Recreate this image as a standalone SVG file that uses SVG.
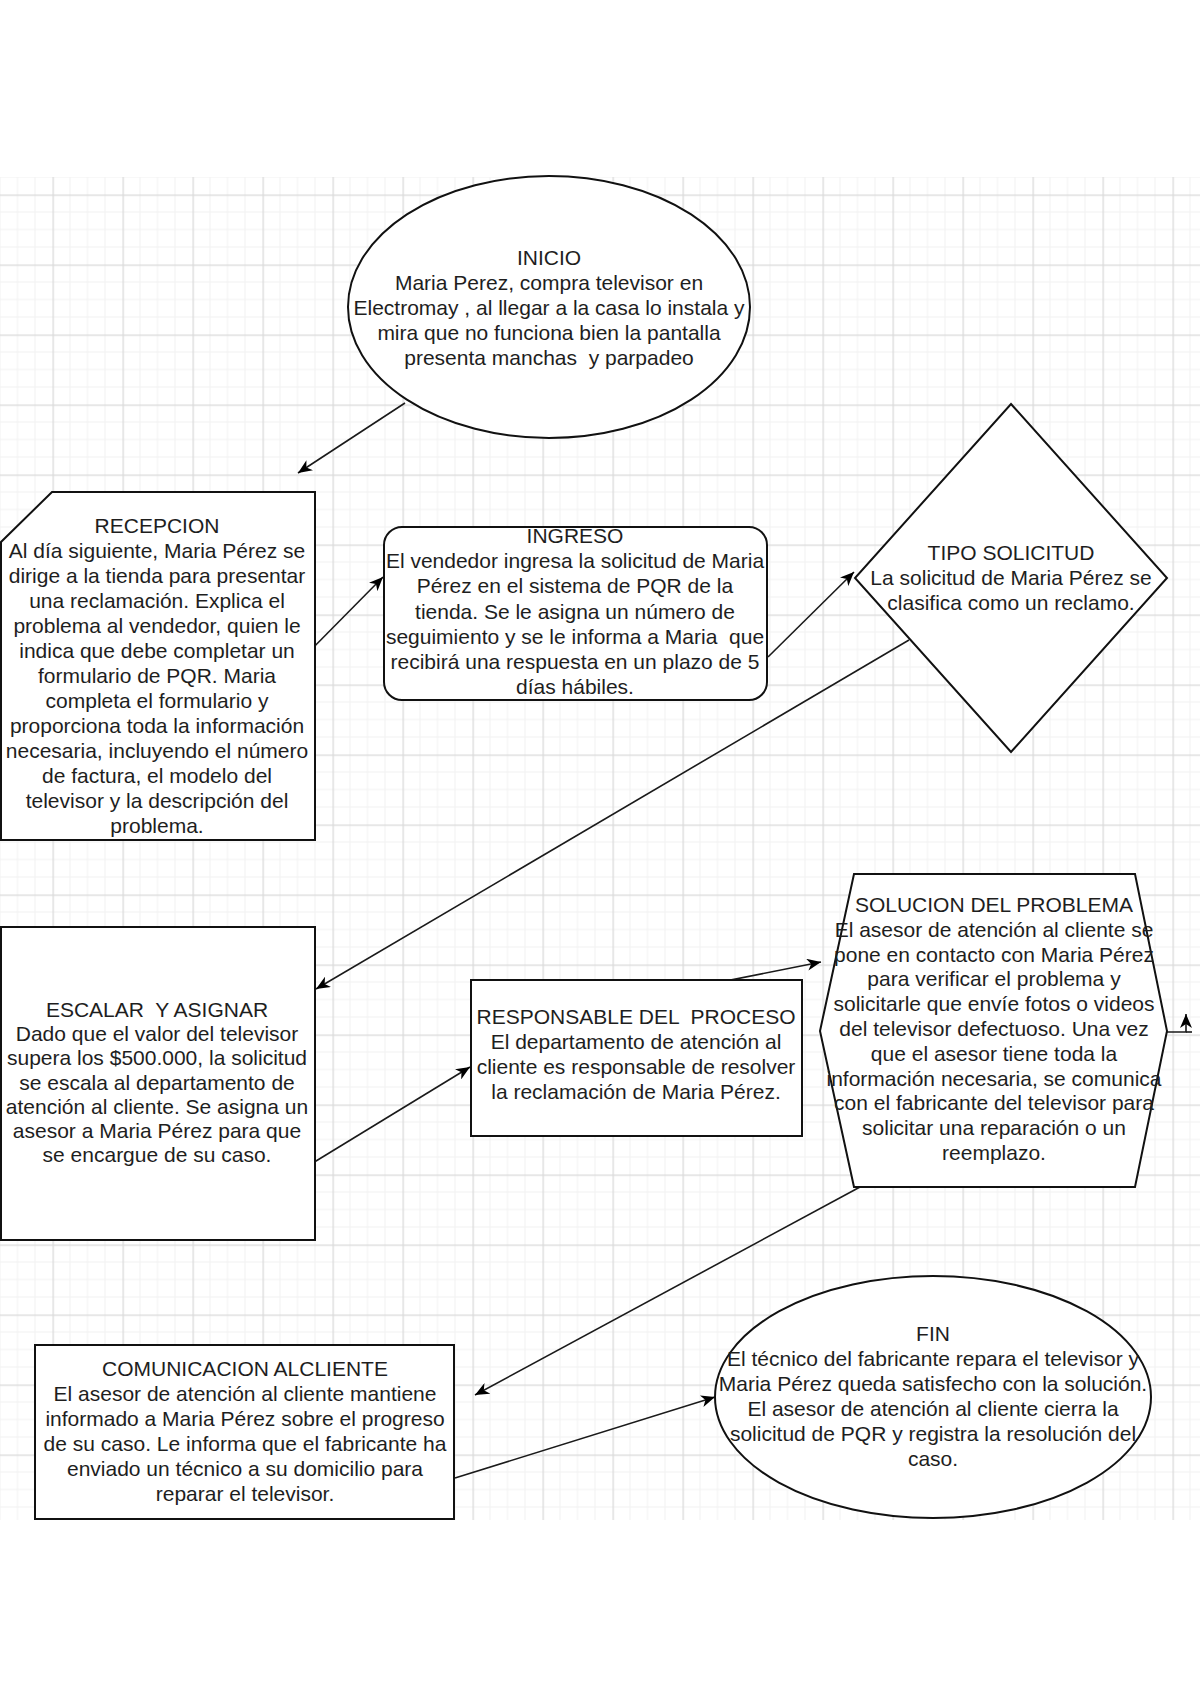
<svg xmlns="http://www.w3.org/2000/svg" width="1200" height="1698" viewBox="0 0 1200 1698">
<style>
.t{font-family:"Liberation Sans",Arial,sans-serif;font-size:21px;fill:#1e1e1e;text-anchor:middle;white-space:pre}
.s{fill:#fff;stroke:#111;stroke-width:2}
.c{fill:none;stroke:#1a1a1a;stroke-width:1.6;marker-end:url(#arr)}
</style>
<defs>
<pattern id="grid" x="52.5" y="194.5" width="70" height="70" patternUnits="userSpaceOnUse">
<path d="M17.5 0V70M35 0V70M52.5 0V70M0 17.5H70M0 35H70M0 52.5H70" stroke="#f1f1f1" stroke-width="1"/>
<rect x="0" y="0" width="1.3" height="70" fill="#dadada"/>
<rect x="0" y="0" width="70" height="1.3" fill="#dadada"/>
</pattern>
<marker id="arr" markerUnits="userSpaceOnUse" markerWidth="16" markerHeight="12" refX="14" refY="6" orient="auto">
<path d="M0,0 L14,6 L0,12 L4,6 Z" fill="#000"/>
</marker>
</defs>
<rect width="1200" height="1698" fill="#fff"/>
<g id="background-grid">
<rect x="0" y="177" width="1200" height="1343" fill="url(#grid)"/>
</g>
<g id="connectors">
<line class="c" x1="405" y1="403" x2="298" y2="473"/>
<line class="c" x1="298" y1="663" x2="383" y2="577"/>
<line class="c" x1="768" y1="657" x2="854" y2="572"/>
<line class="c" x1="909" y1="640" x2="316" y2="989"/>
<line class="c" x1="298" y1="1172" x2="470" y2="1067"/>
<line class="c" x1="645" y1="997" x2="821" y2="962"/>
<line class="c" x1="860" y1="1187" x2="475" y2="1395"/>
<line class="c" x1="455" y1="1478" x2="715" y2="1397"/>
<path class="c" d="M1167,1032 H1186 V1014"/>
<line x1="1186" y1="1032" x2="1192" y2="1032" stroke="#1a1a1a" stroke-width="1.6"/>
</g>
<g id="inicio">
<ellipse class="s" cx="549" cy="307" rx="201" ry="131"/>
<text class="t"><tspan x="549" y="265">INICIO</tspan><tspan x="549" y="290">Maria Perez, compra televisor en</tspan><tspan x="549" y="315">Electromay , al llegar a la casa lo instala y</tspan><tspan x="549" y="340">mira que no funciona bien la pantalla</tspan><tspan x="549" y="365">presenta manchas  y parpadeo</tspan></text>
</g>
<g id="recepcion">
<polygon class="s" points="52,492 315,492 315,840 1,840 1,542"/>
<text class="t"><tspan x="157" y="533">RECEPCION</tspan><tspan x="157" y="558">Al día siguiente, Maria Pérez se</tspan><tspan x="157" y="583">dirige a la tienda para presentar</tspan><tspan x="157" y="608">una reclamación. Explica el</tspan><tspan x="157" y="633">problema al vendedor, quien le</tspan><tspan x="157" y="658">indica que debe completar un</tspan><tspan x="157" y="683">formulario de PQR. Maria</tspan><tspan x="157" y="708">completa el formulario y</tspan><tspan x="157" y="733">proporciona toda la información</tspan><tspan x="157" y="758">necesaria, incluyendo el número</tspan><tspan x="157" y="783">de factura, el modelo del</tspan><tspan x="157" y="808">televisor y la descripción del</tspan><tspan x="157" y="833">problema.</tspan></text>
</g>
<g id="ingreso">
<rect class="s" x="384" y="527" width="383" height="173" rx="18" ry="18"/>
<text class="t"><tspan x="575" y="543">INGRESO</tspan><tspan x="575" y="568">El vendedor ingresa la solicitud de Maria</tspan><tspan x="575" y="593">Pérez en el sistema de PQR de la</tspan><tspan x="575" y="619">tienda. Se le asigna un número de</tspan><tspan x="575" y="644">seguimiento y se le informa a Maria  que</tspan><tspan x="575" y="669">recibirá una respuesta en un plazo de 5</tspan><tspan x="575" y="694">días hábiles.</tspan></text>
</g>
<g id="tipo-solicitud">
<polygon class="s" points="1011,404 1167,578 1011,752 855,578"/>
<text class="t"><tspan x="1011" y="560">TIPO SOLICITUD</tspan><tspan x="1011" y="585">La solicitud de Maria Pérez se</tspan><tspan x="1011" y="610">clasifica como un reclamo.</tspan></text>
</g>
<g id="escalar">
<rect class="s" x="1" y="927" width="314" height="313"/>
<text class="t"><tspan x="157" y="1017">ESCALAR  Y ASIGNAR</tspan><tspan x="157" y="1041">Dado que el valor del televisor</tspan><tspan x="157" y="1065">supera los $500.000, la solicitud</tspan><tspan x="157" y="1090">se escala al departamento de</tspan><tspan x="157" y="1114">atención al cliente. Se asigna un</tspan><tspan x="157" y="1138">asesor a Maria Pérez para que</tspan><tspan x="157" y="1162">se encargue de su caso.</tspan></text>
</g>
<g id="responsable">
<rect class="s" x="471" y="980" width="331" height="156"/>
<text class="t"><tspan x="636" y="1024">RESPONSABLE DEL  PROCESO</tspan><tspan x="636" y="1049">El departamento de atención al</tspan><tspan x="636" y="1074">cliente es responsable de resolver</tspan><tspan x="636" y="1099">la reclamación de Maria Pérez.</tspan></text>
</g>
<g id="solucion">
<polygon class="s" points="854,874 1135,874 1167,1031 1135,1187 854,1187 820,1031"/>
<text class="t"><tspan x="994" y="912">SOLUCION DEL PROBLEMA</tspan><tspan x="994" y="937">El asesor de atención al cliente se</tspan><tspan x="994" y="962">pone en contacto con Maria Pérez</tspan><tspan x="994" y="986">para verificar el problema y</tspan><tspan x="994" y="1011">solicitarle que envíe fotos o videos</tspan><tspan x="994" y="1036">del televisor defectuoso. Una vez</tspan><tspan x="994" y="1061">que el asesor tiene toda la</tspan><tspan x="994" y="1086">información necesaria, se comunica</tspan><tspan x="994" y="1110">con el fabricante del televisor para</tspan><tspan x="994" y="1135">solicitar una reparación o un</tspan><tspan x="994" y="1160">reemplazo.</tspan></text>
</g>
<g id="comunicacion">
<rect class="s" x="35" y="1345" width="419" height="174"/>
<text class="t"><tspan x="245" y="1376">COMUNICACION ALCLIENTE</tspan><tspan x="245" y="1401">El asesor de atención al cliente mantiene</tspan><tspan x="245" y="1426">informado a Maria Pérez sobre el progreso</tspan><tspan x="245" y="1451">de su caso. Le informa que el fabricante ha</tspan><tspan x="245" y="1476">enviado un técnico a su domicilio para</tspan><tspan x="245" y="1501">reparar el televisor.</tspan></text>
</g>
<g id="fin">
<ellipse class="s" cx="933" cy="1397" rx="218" ry="121"/>
<text class="t"><tspan x="933" y="1341">FIN</tspan><tspan x="933" y="1366">El técnico del fabricante repara el televisor y</tspan><tspan x="933" y="1391">Maria Pérez queda satisfecho con la solución.</tspan><tspan x="933" y="1416">El asesor de atención al cliente cierra la</tspan><tspan x="933" y="1441">solicitud de PQR y registra la resolución del</tspan><tspan x="933" y="1466">caso.</tspan></text>
</g>
</svg>
